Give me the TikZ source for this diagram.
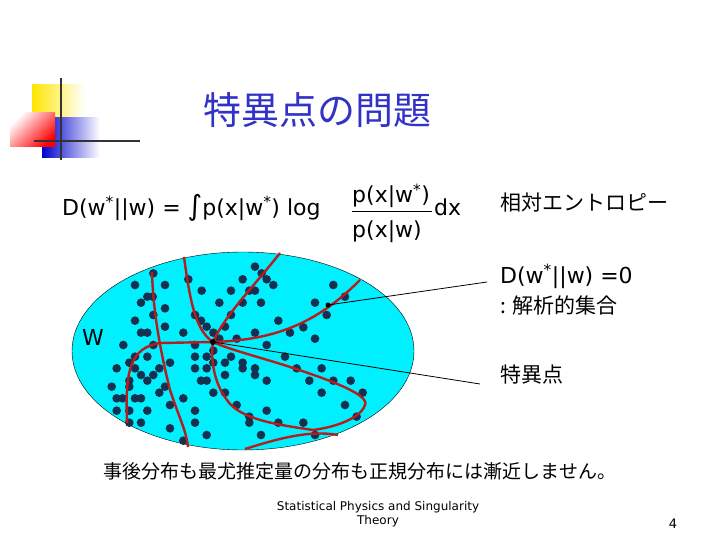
\documentclass[tikz,border=0pt]{standalone}
\usepackage{fontspec}
\setmainfont{DejaVu Sans}
\newfontfamily\cjk{Noto Sans CJK JP}
\begin{document}
\begin{tikzpicture}[x=1pt,y=-1pt,
  curve/.style={draw={rgb,255:red,180;green,30;blue,30},line width=2.4pt},
  dot/.style={fill={rgb,255:red,20;green,50;blue,80}},
  txt/.style={inner sep=0pt,anchor=base west},
  fm/.style={font=\fontsize{22}{22}\selectfont}]
\useasboundingbox (0,0) rectangle (720,540);
% decoration
\shade[left color=yellow!80!orange,right color=white] (32,85) rectangle (85,118);
\shade[left color=blue!80!black,right color=white] (42,118) rectangle (100,158);
\shade[left color=white,right color=red,shading angle=45] (10,113) rectangle (55,147);
\draw[line width=2pt,black!80] (61,78) -- (61,160);
\draw[line width=2pt,black!80] (34,141) -- (140,141);
\node[txt,font=\cjk\fontsize{38}{38}\selectfont,text={rgb,255:red,50;green,50;blue,200}] (title) at (203,125) {特異点の問題};
% formula
\node[txt,fm] (f1) at (62,215) {D(w\textsuperscript{*}||w) = {\fontsize{28}{28}\selectfont ∫}p(x|w\textsuperscript{*}) log};
\node[txt,fm] (num) at (352,203) {p(x|w\textsuperscript{*})};
\node[txt,fm] (den) at (352,237) {p(x|w)};
\draw (352,211) coordinate (fl) -- (432,211) coordinate (fr);
\node[txt,fm] (dx) at (434,215) {dx};
\node[txt,font=\cjk\fontsize{21}{21}\selectfont] (ent) at (500,211) {相対エントロピー};
\node[txt,fm] (dz) at (500,283) {D(w\textsuperscript{*}||w) =0};
\node[txt,font=\cjk\fontsize{21}{21}\selectfont] (ana) at (500,313) {: 解析的集合};
\node[txt,font=\cjk\fontsize{21}{21}\selectfont] (sing) at (500,382) {特異点};
% ellipse
\fill[fill={rgb,255:red,0;green,240;blue,255}] (243,351) ellipse (171 and 99);
\draw (243,351) ellipse (171 and 99);
\node[txt,fm] (W) at (82,345) {W};
\begin{scope}[shift={(60,240)},scale=1/3]
\foreach \p in {(280,100),(225,135),(315,135),(385,118),(585,80),(605,100),(548,118),(620,118),(640,135),(820,135),(425,152),(513,152),(568,152),(585,152),(262,170),(278,170),(243,188),(478,188),(548,188),(603,188),(765,188),(855,170),(315,205),(405,225),(513,225),(800,225),(225,242),(280,225),(423,242),(655,242),(440,260),(495,260),(315,260),(243,278),(262,278),(370,278),(460,278),(585,278),(690,278),(730,262),(478,296),(530,296),(765,296),(190,315),(280,315),(405,315),(620,315),(460,332),(225,350),(262,350),(405,350),(440,350),(513,350),(675,350),(208,368),(330,368),(460,368),(495,368),(548,368),(170,385),(225,385),(298,385),(405,385),(440,385),(548,385),(585,385),(710,385),(785,385),(243,405),(280,405),(495,405),(585,405),(208,422),(262,422),(423,422),(440,422),(620,422),(748,422),(820,422),(872,422),(155,440),(208,440),(315,440),(298,458),(460,458),(495,458),(785,458),(908,458),(170,475),(188,475),(225,475),(243,475),(370,475),(330,495),(530,495),(855,495),(170,512),(208,512),(262,512),(405,512),(620,512),(568,530),(890,530),(208,548),(243,548),(405,548),(568,548),(655,548),(730,548),(330,565),(440,585),(603,585),(765,585),(370,602)}
  \fill[dot] \p circle (13);
\end{scope}
\coordinate (c) at (213,342);
\coordinate (p1) at (328,305);
\draw[curve] (184,257) .. controls (190,300) and (195,330) .. (c);
\draw[curve] (280,253) .. controls (255,285) and (225,315) .. (c);
\draw[curve] (360,280) .. controls (320,320) and (280,340) .. (c);
\draw[curve] (c) -- (160,343) .. controls (130,348) and (125,370) .. (127,423);
\draw[curve] (152,272) .. controls (153,310) and (160,350) .. (170,390) .. controls (180,420) and (186,430) .. (188,447);
\draw[curve] (c) .. controls (230,350) and (270,360) .. (293,368) .. controls (330,380) and (370,395) .. (365,405) .. controls (360,420) and (330,428) .. (313,430) .. controls (280,425) and (240,420) .. (227,400) .. controls (215,385) and (210,360) .. (c);
\draw[curve] (245,449) .. controls (280,438) and (310,430) .. (338,435);
\draw[thick] (p1) -- (487,282);
\draw[thick] (c) -- (480,384);
\fill (c) circle (3); \fill (p1) circle (2.5);
% bottom
\node[font=\cjk\fontsize{19}{19}\selectfont] (bt) at (360,471) {事後分布も最尤推定量の分布も正規分布には漸近しません。};
\node[font=\fontsize{12}{14}\selectfont,align=center] (foot) at (378,514) {Statistical Physics and Singularity\\Theory};
\node[font=\fontsize{13}{13}\selectfont] (pg) at (673,524) {4};
\end{tikzpicture}
\end{document}
